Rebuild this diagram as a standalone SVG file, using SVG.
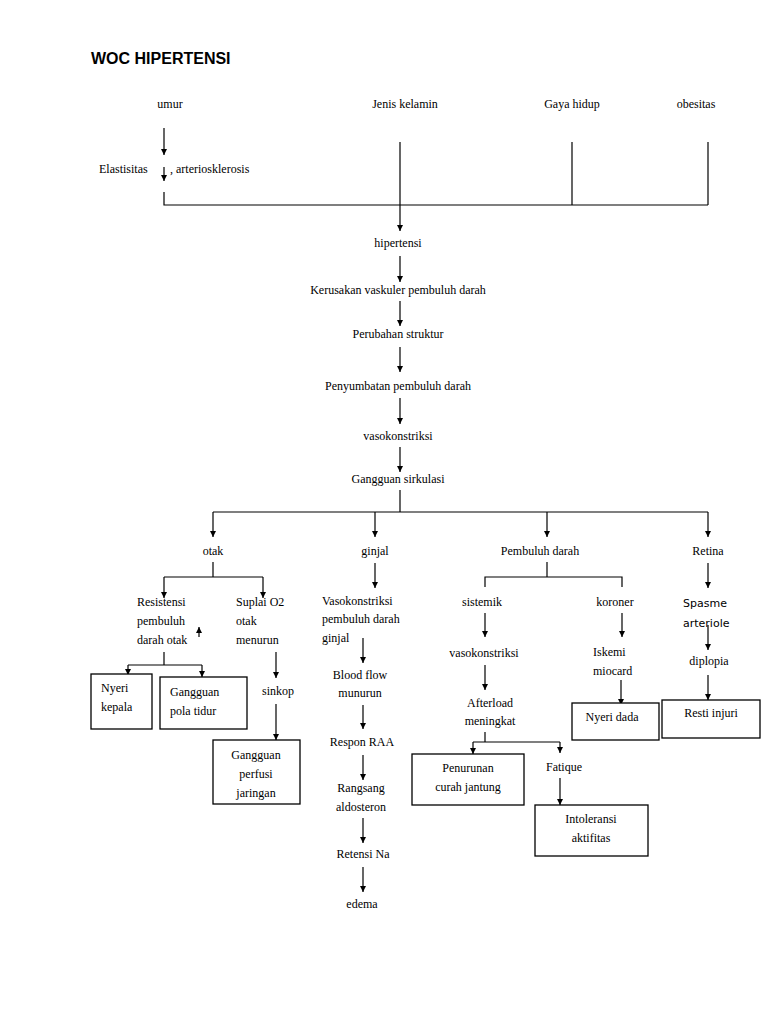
<svg xmlns="http://www.w3.org/2000/svg" width="768" height="1024" viewBox="0 0 768 1024">
<style>
text{font-family:"Liberation Serif",serif;font-size:12px;fill:#000}
.c{text-anchor:middle}
.t{font-family:"Liberation Sans",sans-serif;font-weight:bold;font-size:16px}
.s{font-family:"DejaVu Sans",sans-serif;font-size:11px}
line,polyline{stroke:#000;stroke-width:1.2;fill:none}
.a{marker-end:url(#ar)}
rect{fill:#fff;stroke:#000;stroke-width:1.3}
</style>
<defs><marker id="ar" viewBox="0 0 10 10" refX="10" refY="5" markerWidth="6" markerHeight="6" markerUnits="userSpaceOnUse" orient="auto"><path d="M0,0L10,5L0,10z" fill="#000"/></marker></defs>
<rect x="0" y="0" width="768" height="1024" style="stroke:none"/>
<text class="t" x="91" y="64">WOC HIPERTENSI</text>
<g id="connectors">
<line class="a" x1="164" y1="128" x2="164" y2="155"/>
<line class="a" x1="164" y1="167" x2="164" y2="181"/>
<polyline points="164,192 164,205 708,205"/>
<line x1="572" y1="142" x2="572" y2="205"/>
<line x1="708" y1="142" x2="708" y2="205"/>
<line class="a" x1="400" y1="142" x2="400" y2="231"/>
<line class="a" x1="400" y1="256" x2="400" y2="282"/>
<line class="a" x1="400" y1="301" x2="400" y2="326"/>
<line class="a" x1="400" y1="347" x2="400" y2="372"/>
<line class="a" x1="400" y1="398" x2="400" y2="424"/>
<line class="a" x1="400" y1="447" x2="400" y2="472"/>
<polyline points="400,490 400,512"/>
<line x1="213" y1="512" x2="708" y2="512"/>
<line class="a" x1="213" y1="512" x2="213" y2="537"/>
<line class="a" x1="375" y1="512" x2="375" y2="537"/>
<line class="a" x1="547" y1="512" x2="547" y2="537"/>
<line class="a" x1="708" y1="512" x2="708" y2="537"/>
<polyline points="213,562 213,577"/>
<line x1="164" y1="577" x2="263" y2="577"/>
<line class="a" x1="164" y1="577" x2="164" y2="598"/>
<line class="a" x1="263" y1="577" x2="263" y2="598"/>
<polyline points="164,652 164,665"/>
<line x1="128" y1="665" x2="202" y2="665"/>
<line class="a" x1="128" y1="665" x2="128" y2="675"/>
<line class="a" x1="202" y1="665" x2="202" y2="677"/>
<line class="a" x1="276" y1="652" x2="276" y2="678"/>
<line class="a" x1="276" y1="704" x2="276" y2="740"/>
<line class="a" x1="375" y1="563" x2="375" y2="588"/>
<line class="a" x1="363" y1="638" x2="363" y2="663"/>
<line class="a" x1="363" y1="705" x2="363" y2="729"/>
<line class="a" x1="363" y1="755" x2="363" y2="780"/>
<line class="a" x1="363" y1="818" x2="363" y2="843"/>
<line class="a" x1="363" y1="867" x2="363" y2="892"/>
<polyline points="547,562 547,577"/>
<polyline points="485,587 485,577 622,577 622,587"/>
<line class="a" x1="485" y1="613" x2="485" y2="637"/>
<line class="a" x1="485" y1="665" x2="485" y2="690"/>
<polyline points="485,732 485,742"/>
<line x1="473" y1="742" x2="560" y2="742"/>
<line class="a" x1="473" y1="742" x2="473" y2="754"/>
<line class="a" x1="560" y1="742" x2="560" y2="753"/>
<line class="a" x1="560" y1="778" x2="560" y2="805"/>
<line class="a" x1="622" y1="613" x2="622" y2="637"/>
<line class="a" x1="621" y1="680" x2="621" y2="705"/>
<line class="a" x1="708" y1="563" x2="708" y2="588"/>
<line class="a" x1="708" y1="625" x2="708" y2="650"/>
<line class="a" x1="708" y1="675" x2="708" y2="700"/>
</g>
<g id="top">
<text class="c" x="170" y="108">umur</text>
<text class="c" x="405" y="108">Jenis kelamin</text>
<text class="c" x="572" y="108">Gaya hidup</text>
<text class="c" x="696" y="108">obesitas</text>
<text x="99" y="173">Elastisitas</text>
<text x="170" y="173">, arteriosklerosis</text>
</g>
<g id="main">
<text class="c" x="398" y="247">hipertensi</text>
<text class="c" x="398" y="294">Kerusakan vaskuler pembuluh darah</text>
<text class="c" x="398" y="338">Perubahan struktur</text>
<text class="c" x="398" y="390">Penyumbatan pembuluh darah</text>
<text class="c" x="398" y="440">vasokonstriksi</text>
<text class="c" x="398" y="483">Gangguan sirkulasi</text>
</g>
<g id="otak">
<text class="c" x="213" y="555">otak</text>
<text x="137" y="606">Resistensi</text>
<text x="137" y="625">pembuluh</text>
<text x="137" y="644">darah otak</text>
<line class="a" x1="199" y1="637" x2="199" y2="627"/>
<text x="236" y="606">Suplai O2</text>
<text x="236" y="625">otak</text>
<text x="236" y="644">menurun</text>
<text class="c" x="278" y="695">sinkop</text>
</g>
<g id="nyeri-kepala"><rect x="91" y="674" width="61" height="55"/><text x="101" y="692">Nyeri</text><text x="101" y="711">kepala</text></g>
<g id="pola-tidur"><rect x="160" y="677" width="87" height="52"/><text x="170" y="696">Gangguan</text><text x="170" y="715">pola tidur</text></g>
<g id="perfusi"><rect x="213" y="740" width="87" height="64"/><text class="c" x="256" y="759">Gangguan</text><text class="c" x="256" y="778">perfusi</text><text class="c" x="256" y="797">jaringan</text></g>
<g id="ginjal">
<text class="c" x="375" y="555">ginjal</text>
<text x="322" y="605">Vasokonstriksi</text>
<text x="322" y="623">pembuluh darah</text>
<text x="322" y="642">ginjal</text>
<text class="c" x="360" y="679">Blood flow</text>
<text class="c" x="360" y="697">munurun</text>
<text class="c" x="362" y="746">Respon RAA</text>
<text class="c" x="361" y="792">Rangsang</text>
<text class="c" x="361" y="811">aldosteron</text>
<text class="c" x="363" y="858">Retensi Na</text>
<text class="c" x="362" y="908">edema</text>
</g>
<g id="pembuluh">
<text class="c" x="540" y="555">Pembuluh darah</text>
<text class="c" x="482" y="606">sistemik</text>
<text class="c" x="615" y="606">koroner</text>
<text class="c" x="484" y="657">vasokonstriksi</text>
<text class="c" x="490" y="707">Afterload</text>
<text class="c" x="490" y="725">meningkat</text>
<text class="c" x="564" y="771">Fatique</text>
<text x="593" y="656">Iskemi</text>
<text x="593" y="675">miocard</text>
</g>
<g id="penurunan"><rect x="412" y="754" width="112" height="51"/><text class="c" x="468" y="772">Penurunan</text><text class="c" x="468" y="791">curah jantung</text></g>
<g id="intoleransi"><rect x="535" y="805" width="113" height="51"/><text class="c" x="591" y="823">Intoleransi</text><text class="c" x="591" y="842">aktifitas</text></g>
<g id="nyeri-dada"><rect x="572" y="703" width="87" height="37"/><text class="c" x="612" y="721">Nyeri dada</text></g>
<g id="retina">
<text class="c" x="708" y="555">Retina</text>
<text class="s" x="683" y="607">Spasme</text>
<text class="s" x="683" y="627">arteriole</text>
<text class="c" x="709" y="665">diplopia</text>
</g>
<g id="resti"><rect x="662" y="700" width="98" height="38"/><text class="c" x="711" y="717">Resti injuri</text></g>
</svg>
